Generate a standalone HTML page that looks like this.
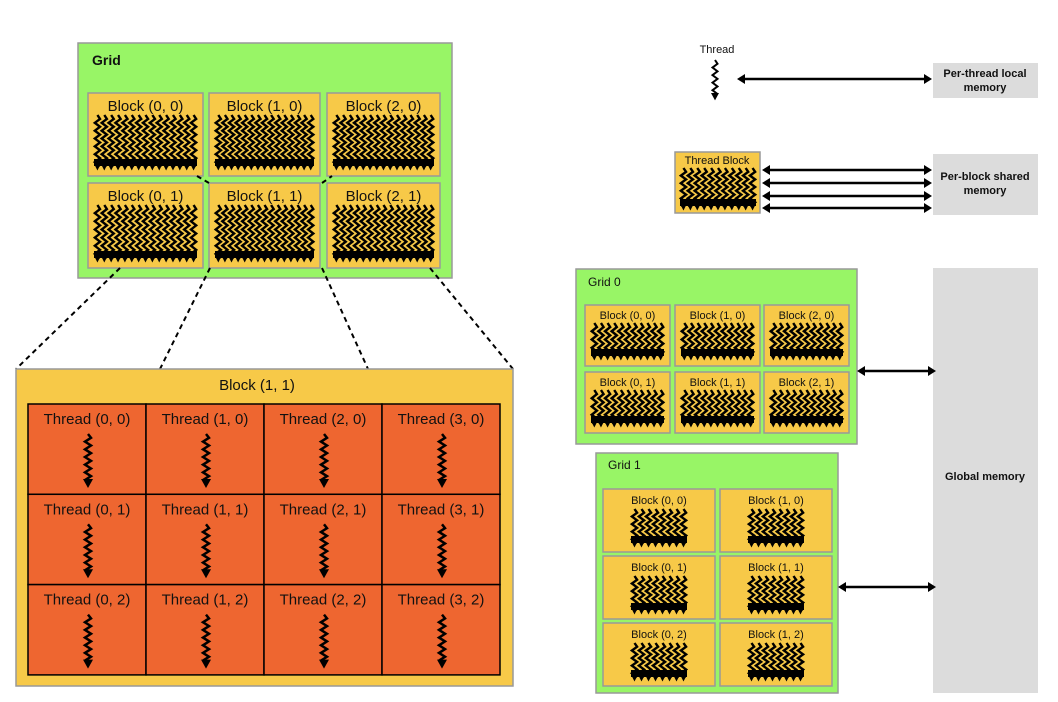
<!DOCTYPE html><html><head><style>body{margin:0;background:#fff}svg{display:block}text{font-family:"Liberation Sans",sans-serif;fill:#111}</style></head><body>
<svg id="s" width="1058" height="702" xmlns="http://www.w3.org/2000/svg"></svg>
<script>
const s=document.getElementById('s');let h='';
function R(x,y,w,hh,f,st){h+=`<rect x="${x}" y="${y}" width="${w}" height="${hh}" fill="${f}" stroke="${st||'none'}" stroke-width="1.5"/>`}
function T(x,y,t,sz,a,b){h+=`<text x="${x}" y="${y}" font-size="${sz}" text-anchor="${a||'start'}" ${b?'font-weight="bold"':''}>${t}</text>`}
function sq(x,y,len,amp,sw,head){let d=`M${x},${y}`;let n=Math.round(len/4);for(let i=1;i<=n;i++){d+=` L${x+(i%2?amp:-amp)},${y+i*len/n}`}h+=`<path d="${d}" fill="none" stroke="#000" stroke-width="${sw}"/>`;if(head)h+=`<path d="M${x-head},${y+len-1} L${x+head},${y+len-1} L${x},${y+len+head*1.6}Z" fill="#000"/>`}
function tex(x,y,w,hh){let cols=Math.floor(w/6.5);let dx=w/cols;for(let c=0;c<cols;c++){sq(x+dx*c+dx/2,y,hh-5,2.6,2.4,2.8)}h+=`<rect x="${x}" y="${y+hh-12}" width="${w}" height="7" fill="#000"/>`}
function blk(x,y,w,hh,lab,sz){R(x,y,w,hh,'#F7C948','#999');T(x+w/2,y+sz+3,lab,sz,'middle');tex(x+6,y+sz+7,w-12,hh-sz-12)}
function arr(x1,x2,y){h+=`<line x1="${x1+7}" y1="${y}" x2="${x2-7}" y2="${y}" stroke="#000" stroke-width="2.5"/><path d="M${x1},${y} l8,-5 v10Z M${x2},${y} l-8,-5 v10Z" fill="#000"/>`}
R(78,43,374,235,'#98F566','#999');T(92,65,'Grid',14,0,1);
const gx=[[88,115],[209,111],[327,113]],gy=[[93,83],[183,85]];
gy.forEach((r,j)=>gx.forEach((c,i)=>blk(c[0],r[0],c[1],r[1],`Block (${i}, ${j})`,15)));
[[120,268,16,369],[210,268,160,369],[322,268,368,369],[430,268,513,369],[209,183,197,176],[322,183,332,176]].forEach(l=>h+=`<line x1="${l[0]}" y1="${l[1]}" x2="${l[2]}" y2="${l[3]}" stroke="#000" stroke-width="2" stroke-dasharray="5,4"/>`);
R(16,369,497,317,'#F7C948','#999');T(257,390,'Block (1, 1)',15,'middle');
const cw=118,ch=90.3;
for(let j=0;j<3;j++)for(let i=0;i<4;i++){let x=28+i*cw,y=404+j*ch;R(x,y,cw,ch,'#EE6630','#000');T(x+59,y+20,`Thread (${i}, ${j})`,15,'middle');sq(x+60,y+30,46,3,2.5,5)}
T(717,53,'Thread',11,'middle');sq(715,60,34,2.5,2,4);arr(737,932,79);
R(933,63,105,35,'#DCDCDC');T(985,77,'Per-thread local',11,'middle',1);T(985,91,'memory',11,'middle',1);
R(675,152,85,61,'#F7C948','#999');T(717,164,'Thread Block',11,'middle');tex(680,168,76,43);
[170,183,196,208].forEach(y=>arr(762,932,y));
R(933,154,105,61,'#DCDCDC');T(985,180,'Per-block shared',11,'middle',1);T(985,194,'memory',11,'middle',1);
R(933,268,105,425,'#DCDCDC');T(985,480,'Global memory',11,'middle',1);
R(576,269,281,175,'#98F566','#999');T(588,286,'Grid 0',12);
const g0x=[585,675,764],g0y=[305,372];
g0y.forEach((y,j)=>g0x.forEach((x,i)=>blk(x,y,85,61,`Block (${i}, ${j})`,11)));
arr(857,936,371);
R(596,453,242,240,'#98F566','#999');T(608,469,'Grid 1',12);
const g1x=[603,720],g1y=[489,556,623];
g1y.forEach((y,j)=>g1x.forEach((x,i)=>{R(x,y,112,63,'#F7C948','#999');T(x+56,y+15,`Block (${i}, ${j})`,11,'middle');tex(x+28,y+20,56,39)}));
arr(838,936,587);
s.innerHTML=h;
</script></body></html>
